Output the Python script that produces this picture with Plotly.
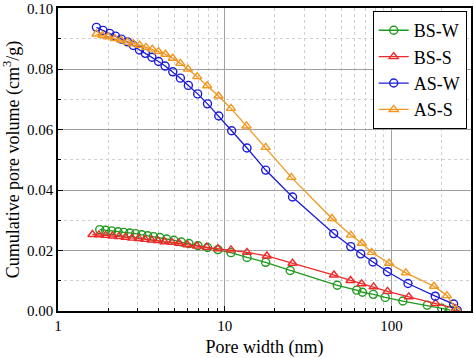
import plotly.graph_objects as go

bsw_x = [1.78, 1.93, 2.10, 2.29, 2.48, 2.69, 2.92, 3.18, 3.45, 3.74, 4.09, 4.48, 4.95, 5.49, 6.10, 6.91, 7.88, 9.10, 10.9, 13.6, 17.6, 24.7, 47.3, 61.9, 67.0, 77.8, 91.7, 117, 164, 200, 226]
bsw_y = [0.0269, 0.0267, 0.0265, 0.0262, 0.0260, 0.0258, 0.0256, 0.0252, 0.0249, 0.0246, 0.0243, 0.0238, 0.0234, 0.0228, 0.0223, 0.0216, 0.0210, 0.0203, 0.0193, 0.0177, 0.0161, 0.0134, 0.0085, 0.0069, 0.0062, 0.0055, 0.0045, 0.0033, 0.0019, 0.0009, 0.0003]

bss_x = [1.61, 1.76, 1.93, 2.12, 2.32, 2.54, 2.78, 3.05, 3.33, 3.63, 3.97, 4.35, 4.82, 5.32, 5.97, 6.81, 7.80, 9.10, 10.9, 13.6, 17.9, 25.5, 45.2, 56.8, 66.2, 78.1, 94.7, 127, 184, 243]
bss_y = [0.0253, 0.0252, 0.0250, 0.0248, 0.0246, 0.0244, 0.0241, 0.0240, 0.0237, 0.0235, 0.0233, 0.0229, 0.0227, 0.0224, 0.0219, 0.0215, 0.0211, 0.0206, 0.0202, 0.0194, 0.0182, 0.0158, 0.0119, 0.0101, 0.0090, 0.0080, 0.0065, 0.0047, 0.0025, 0.0008]

asw_x = [1.70, 1.86, 2.04, 2.21, 2.40, 2.61, 2.83, 3.08, 3.34, 3.66, 4.01, 4.39, 4.88, 5.42, 6.05, 6.88, 7.88, 9.21, 11.0, 13.6, 17.6, 25.5, 45.0, 57.0, 65.4, 77.4, 94.7, 125.6, 183, 236, 248]
asw_y = [0.0938, 0.0928, 0.0918, 0.0909, 0.0899, 0.0890, 0.0878, 0.0863, 0.0852, 0.0839, 0.0825, 0.0810, 0.0791, 0.0770, 0.0746, 0.0718, 0.0685, 0.0645, 0.0596, 0.0539, 0.0466, 0.0377, 0.0256, 0.0213, 0.0189, 0.0162, 0.0130, 0.0091, 0.0049, 0.0023, 0.0002]

ass_x = [1.70, 1.85, 2.00, 2.19, 2.39, 2.61, 2.83, 3.09, 3.37, 3.68, 4.01, 4.41, 4.88, 5.42, 6.02, 6.84, 7.84, 9.18, 10.9, 13.5, 17.6, 25.1, 44.0, 57.1, 66.4, 76.1, 96.8, 122, 180, 215, 245]
ass_y = [0.0916, 0.0911, 0.0907, 0.0901, 0.0896, 0.0889, 0.0884, 0.0879, 0.0872, 0.0866, 0.0858, 0.0849, 0.0836, 0.0819, 0.0800, 0.0775, 0.0745, 0.0711, 0.0670, 0.0612, 0.0541, 0.0442, 0.0306, 0.0251, 0.0224, 0.0194, 0.0158, 0.0126, 0.0082, 0.0051, 0.0005]

series = [
    ("BS-W", bsw_x, bsw_y, "#1f9a1f", "circle-open"),
    ("BS-S", bss_x, bss_y, "#f02a2a", "triangle-up-open"),
    ("AS-W", asw_x, asw_y, "#1c1cd8", "circle-open"),
    ("AS-S", ass_x, ass_y, "#f2961e", "triangle-up-open"),
]

x_ticks = [1, 10, 100]
x_minor = [2, 3, 4, 5, 6, 7, 8, 9, 20, 30, 40, 50, 60, 70, 80, 90, 200, 300]
y_ticks = [0.0, 0.02, 0.04, 0.06, 0.08, 0.10]

fig = go.Figure()
for name, xs, ys, col, sym in series:
    fig.add_trace(go.Scatter(
        x=xs, y=ys, name=name, mode="lines+markers",
        line=dict(color=col, width=1.3),
        marker=dict(symbol=sym, size=8, color=col, line=dict(color=col, width=1.4)),
    ))

font = "Liberation Serif, serif"
fig.update_layout(
    width=474, height=358,
    margin=dict(l=58, r=1, t=5, b=47),
    plot_bgcolor="white", paper_bgcolor="white",
    font=dict(family=font, size=14, color="black"),
    showlegend=True,
    legend=dict(x=0.762, y=0.99, xanchor="left", yanchor="top",
                bordercolor="black", borderwidth=1, bgcolor="white",
                font=dict(size=18, family=font), tracegroupgap=0,
                itemwidth=30),
)
fig.update_xaxes(
    type="log", range=[0, 2.477],
    tickvals=x_ticks, ticktext=[str(v) for v in x_ticks],
    ticks="inside", ticklen=5, tickcolor="black",
    showline=True, linecolor="black", linewidth=1.5, mirror=True,
    showgrid=True, gridcolor="#a0a0a0", gridwidth=1,
    minor=dict(tickvals=x_minor, ticks="inside", ticklen=3, tickcolor="black",
               showgrid=True, gridcolor="#cfcfcf", griddash="dot", gridwidth=1),
    title=dict(text="Pore width (nm)", font=dict(size=18, family=font), standoff=10),
    tickfont=dict(size=15, family=font),
    ticklabeloverflow="allow",
    zeroline=False,
)
fig.update_yaxes(
    range=[0, 0.1002],
    tickvals=y_ticks, ticktext=["%.2f" % v for v in y_ticks],
    ticks="inside", ticklen=5, tickcolor="black",
    showline=True, linecolor="black", linewidth=1.5, mirror=True,
    showgrid=True, gridcolor="#a0a0a0", gridwidth=1,
    minor=dict(dtick=0.01, ticks="inside", ticklen=3, tickcolor="black",
               showgrid=True, gridcolor="#cfcfcf", griddash="dot", gridwidth=1),
    title=dict(text="Cumulative pore volume (cm<sup>3</sup>/g)", font=dict(size=18, family=font), standoff=6),
    tickfont=dict(size=15, family=font),
    ticklabeloverflow="allow",
    zeroline=False,
)

fig.write_html("out.html", config={"displayModeBar": False},
               post_script="document.body.style.margin='0';document.body.style.overflow='hidden';")
